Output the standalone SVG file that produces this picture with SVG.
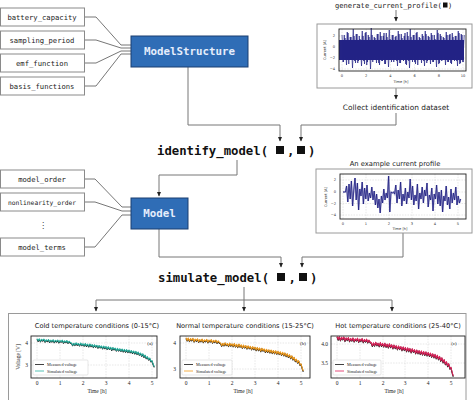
<svg xmlns="http://www.w3.org/2000/svg" width="474" height="400" viewBox="0 0 474 400">
<style>
.in rect{fill:#fff;stroke:#8a8a8a;stroke-width:1}
.in text{font-family:"DejaVu Sans Mono",monospace;font-size:7.2px;fill:#222;text-anchor:middle}
.blue rect{fill:#2f6db6;stroke:#1b3f70;stroke-width:1}
.blue text{font-family:"DejaVu Sans Mono",monospace;font-weight:bold;font-size:10.8px;fill:#e6eefc;text-anchor:middle}
.conn path{fill:none;stroke:#777;stroke-width:1}
.arr{marker-end:url(#ah)}
.fn{font-family:"DejaVu Sans Mono",monospace;font-weight:bold;font-size:12.3px;fill:#111}
.sq{fill:#111}
.panel{fill:#fff;stroke:#9a9a9a;stroke-width:1}
.frame{fill:none;stroke:#222;stroke-width:0.9}
.grid{stroke:#cfcfcf;stroke-width:0.5;stroke-dasharray:1.5 1.2;fill:none}
.tk{font-family:"DejaVu Sans",sans-serif;font-size:3.6px;fill:#333;text-anchor:middle}
.tks{font-family:"Liberation Serif",serif;font-size:5.5px;fill:#222;text-anchor:middle}
.cap{font-family:"DejaVu Sans",sans-serif;font-size:6.6px;fill:#222;text-anchor:middle}
.leg{font-family:"Liberation Serif",serif;font-size:4.2px;fill:#222}
.legbox{fill:#fff;stroke:#ccc;stroke-width:0.5}
.cur{fill:none;stroke:#232385;stroke-width:0.7}
</style>
<defs>
<marker id="ah" markerWidth="5" markerHeight="5" refX="4" refY="2.5" orient="auto" markerUnits="userSpaceOnUse"><path d="M0,0.5 L4.5,2.5 L0,4.5 z" fill="#222"/></marker>
<path id="vc" fill="none" stroke-linejoin="round" d="M0,0 5,10 10,1 15,12 20,3 25,9 30,2 35,14 40,5 45,11 50,4 55,15 60,7 65,13 70,5 75,16 80,8 85,13 90,6 95,17 100,9 105,14 110,7 115,18 120,10 125,16 130,9 135,19 140,12 145,18 150,20 155,30 160,21 165,29 170,19 175,28 180,22 185,31 190,20 195,30 200,23 205,32 210,22 215,33 220,25 225,35 230,24 235,34 240,27 245,38 250,28 255,37 260,30 265,41 270,31 275,40 280,33 285,44 290,34 295,43 300,36 305,47 310,37 315,47 320,39 325,51 330,40 335,49 340,43 345,54 350,44 355,54 360,46 365,56 370,47 375,58 380,49 385,59 390,50 395,61 400,52 405,62 410,54 415,65 420,56 425,67 430,58 435,70 440,61 445,73 450,65 455,78 460,69 465,83 470,75 475,89 480,82 485,95 490,88 495,103 500,100 505,116 510,128"/>
<polyline id="zz" points="342,35 343.5,62 345,38 346.5,65 348,33 349.5,60 351,37 352.5,68 354,36 355.5,63 357,34 358.5,61 360,39 361.5,66 363,36 364.5,64 366,32 367.5,62 369,37 370.5,69 372,35 373.5,60 375,38 376.5,63 378,34 379.5,65 381,36 382.5,61 384,33 385.5,64 387,37 388.5,67 390,39 391.5,62 393,35 394.5,60 396,36 397.5,66 399,34 400.5,63 402,38 403.5,61 405,33 406.5,65 408,36 409.5,68 411,37 412.5,62 414,35 415.5,64 417,32 418.5,60 420,38 421.5,63 423,36 424.5,66 426,34 427.5,61 429,37 430.5,64 432,35 433.5,62 435,39 436.5,67 438,33 439.5,63 441,36 442.5,60 444,38 445.5,65 447,35 448.5,62 450,34 451.5,64 453,37 454.5,61 456,36 457.5,66 459,33 460.5,63 462,35 463.5,62"/>
<clipPath id="ca"><rect x="31" y="336" width="126" height="42"/></clipPath>
<clipPath id="cb"><rect x="180" y="336" width="130" height="42"/></clipPath>
<clipPath id="cc"><rect x="331" y="336" width="134" height="42"/></clipPath>
</defs>

<rect width="474" height="400" fill="#fff"/>

<!-- connectors -->
<g id="connectors" class="conn">
<path d="M84.5,17 H96 L121,45 H131"/>
<path d="M84.5,40 H96 L121,48 H131"/>
<path d="M84.5,63 H96 L121,51 H131"/>
<path d="M84.5,86 H96 L121,54 H131"/>
<path d="M85,179 H95 L122,207 H131"/>
<path d="M85,202 H95 L122,211 H131"/>
<path d="M85,247 H95 L122,215 H131"/>
<path class="arr" d="M188,67 V125 H280 V141"/>
<path class="arr" d="M396,10 V21"/>
<path class="arr" d="M396,88 V99"/>
<path class="arr" d="M396,113 V125 H301 V141"/>
<path class="arr" d="M237,160 V175 H159 V196"/>
<path class="arr" d="M159,229 V257 H281 V267"/>
<path class="arr" d="M403,233 V257 H302 V267"/>
<path d="M244,287 V300 M96,300 H392"/>
<path class="arr" d="M96,300 V311"/>
<path class="arr" d="M244,300 V311"/>
<path class="arr" d="M392,300 V311"/>
</g>

<!-- input nodes -->
<g id="battery_capacity" class="in"><rect x="0.5" y="8" width="84" height="18"/><text x="42" y="20">battery_capacity</text></g>
<g id="sampling_period" class="in"><rect x="0.5" y="31" width="84" height="18"/><text x="42" y="43">sampling_period</text></g>
<g id="emf_function" class="in"><rect x="0.5" y="54" width="84" height="18"/><text x="42" y="66">emf_function</text></g>
<g id="basis_functions" class="in"><rect x="0.5" y="77" width="84" height="18"/><text x="42" y="89">basis_functions</text></g>
<g id="model_order" class="in"><rect x="0.5" y="170" width="84" height="18"/><text x="42" y="182">model_order</text></g>
<g id="nonlinearity_order" class="in"><rect x="0.5" y="193" width="84" height="18"/><text x="42" y="204.5" style="font-size:6.3px">nonlinearity_order</text></g>
<g id="vdots"><text x="43" y="228" style="font-family:'DejaVu Sans',sans-serif;font-size:8px;fill:#333;text-anchor:middle">⋮</text></g>
<g id="model_terms" class="in"><rect x="0.5" y="238" width="84" height="18"/><text x="42" y="250">model_terms</text></g>

<g id="ModelStructure" class="blue"><rect x="131" y="36" width="117" height="31"/><text x="189.5" y="55">ModelStructure</text></g>
<g id="Model" class="blue"><rect x="131" y="198" width="57" height="31"/><text x="159.5" y="217">Model</text></g>

<!-- generate_current_profile -->
<g id="generate_current_profile">
<text x="335" y="8" style="font-family:'DejaVu Sans Mono',monospace;font-size:7.1px;fill:#222">generate_current_profile(</text>
<rect x="443" y="2.5" width="4.5" height="5" class="sq"/>
<text x="448" y="8" style="font-family:'DejaVu Sans Mono',monospace;font-size:7.1px;fill:#222">)</text>
</g>

<!-- top current profile plot -->
<g id="profile_plot_top">
<rect class="panel" x="317" y="24" width="155" height="64"/>
<g class="grid"><path d="M342,29V71M366.2,29V71M390.4,29V71M414.6,29V71M438.8,29V71M463,29V71M339,36H466M339,47H466M339,58H466M339,69H466"/></g>
<rect x="339" y="40" width="125" height="20" fill="#232385"/>
<use href="#zz" class="cur"/>
<use href="#zz" class="cur" transform="translate(0.75,97) scale(1,-1)"/>
<rect class="frame" x="339" y="29" width="127" height="42"/>
<g class="tk"><text x="342" y="77">0</text><text x="366.2" y="77">2</text><text x="390.4" y="77">4</text><text x="414.6" y="77">6</text><text x="438.8" y="77">8</text><text x="463" y="77">10</text>
<text x="401" y="82.5">Time [h]</text>
<text x="335" y="37.3" style="text-anchor:end">2</text><text x="335" y="48.3" style="text-anchor:end">0</text><text x="335" y="59.3" style="text-anchor:end">−2</text><text x="335" y="70.3" style="text-anchor:end">−4</text>
<text transform="translate(326,50) rotate(-90)">Current [A]</text></g>
</g>
<g id="collect"><text class="cap" x="396" y="109.5" style="font-size:7.4px">Collect identification dataset</text></g>

<!-- identify_model -->
<g id="identify_model">
<text class="fn" x="157" y="155">identify_model(</text>
<rect class="sq" x="276" y="146" width="8" height="8"/>
<text class="fn" x="287" y="155">,</text>
<rect class="sq" x="297" y="146" width="8" height="8"/>
<text class="fn" x="308" y="155">)</text>
</g>

<!-- example current profile -->
<g id="profile_plot_example">
<text class="cap" x="395" y="165.5" style="font-size:6.8px">An example current profile</text>
<rect class="panel" x="316" y="169" width="156" height="64"/>
<g class="grid"><path d="M343,174V219M366,174V219M389,174V219M412,174V219M435,174V219M458,174V219M340,180H466M340,192H466M340,203.5H466M340,215H466"/></g>
<polyline fill="none" stroke="#6868b0" stroke-width="1.6" opacity="0.6" points="343,192 344.2,192 345.4,192 346.6,186 347.8,202 349,184 350.2,199 351.4,181 352.6,206 353.8,190 355,178 356.2,200 357.4,183 358.6,210 359.8,189 361,196 362.2,182 363.4,204 364.6,188 365.8,199 367,185 368.2,201 369.4,193 370.6,198 371.8,187 373,200 374.2,191 375.4,205 376.6,194 377.8,208 379,199 380.2,213 381.4,196 382.6,203 383.8,189 385,200 386.2,193 387.4,198 388.6,176 389.8,212 391,192 392.2,193 393.4,192 394.6,194 395.8,185 397,203 398.2,190 399.4,199 400.6,182 401.8,206 403,194 404.2,201 405.4,188 406.6,204 407.8,192 409,198 410.2,179 411.4,200 412.6,186 413.8,205 415,195 416.2,201 417.4,184 418.6,209 419.8,193 421,199 422.2,187 423.4,203 424.6,190 425.8,196 427,183 428.2,207 429.4,195 430.6,200 431.8,188 433,211 434.2,194 435.4,199 436.6,185 437.8,204 439,192 440.2,206 441.4,190 442.6,212 443.8,196 445,201 446.2,186 447.4,205 448.6,197 449.8,209 451,189 452.2,203 453.4,193 454.6,200 455.8,187 457,205 458.2,196 459.4,203 460.6,199"/>
<polyline fill="none" stroke="#1d1d80" stroke-width="0.8" points="343,192 344.2,192 345.4,192 346.6,186 347.8,202 349,184 350.2,199 351.4,181 352.6,206 353.8,190 355,178 356.2,200 357.4,183 358.6,210 359.8,189 361,196 362.2,182 363.4,204 364.6,188 365.8,199 367,185 368.2,201 369.4,193 370.6,198 371.8,187 373,200 374.2,191 375.4,205 376.6,194 377.8,208 379,199 380.2,213 381.4,196 382.6,203 383.8,189 385,200 386.2,193 387.4,198 388.6,176 389.8,212 391,192 392.2,193 393.4,192 394.6,194 395.8,185 397,203 398.2,190 399.4,199 400.6,182 401.8,206 403,194 404.2,201 405.4,188 406.6,204 407.8,192 409,198 410.2,179 411.4,200 412.6,186 413.8,205 415,195 416.2,201 417.4,184 418.6,209 419.8,193 421,199 422.2,187 423.4,203 424.6,190 425.8,196 427,183 428.2,207 429.4,195 430.6,200 431.8,188 433,211 434.2,194 435.4,199 436.6,185 437.8,204 439,192 440.2,206 441.4,190 442.6,212 443.8,196 445,201 446.2,186 447.4,205 448.6,197 449.8,209 451,189 452.2,203 453.4,193 454.6,200 455.8,187 457,205 458.2,196 459.4,203 460.6,199"/>
<rect class="frame" x="340" y="174" width="126" height="45"/>
<g class="tk"><text x="343" y="224.5">0</text><text x="366" y="224.5">1</text><text x="389" y="224.5">2</text><text x="412" y="224.5">3</text><text x="435" y="224.5">4</text><text x="458" y="224.5">5</text>
<text x="400" y="229.5">Time [h]</text>
<text x="336" y="181.3" style="text-anchor:end">2</text><text x="336" y="193.3" style="text-anchor:end">0</text><text x="336" y="204.8" style="text-anchor:end">−2</text><text x="336" y="216.3" style="text-anchor:end">−4</text>
<text transform="translate(327,197) rotate(-90)">Current [A]</text></g>
</g>

<!-- simulate_model -->
<g id="simulate_model">
<text class="fn" x="158" y="282">simulate_model(</text>
<rect class="sq" x="277" y="273" width="8" height="8"/>
<text class="fn" x="288.5" y="282">,</text>
<rect class="sq" x="299" y="273" width="8" height="8"/>
<text class="fn" x="310" y="282">)</text>
</g>

<!-- results panel -->
<g id="results">
<rect class="panel" x="8.5" y="313.5" width="457.5" height="95"/>

<g id="plot_cold">
<text class="cap" x="97" y="327.5" style="font-size:6.6px">Cold temperature conditions (0-15°C)</text>
<g class="grid"><path d="M37,336V378M60,336V378M83,336V378M106,336V378M129,336V378M152,336V378M31,343H157M31,365H157"/></g>
<g clip-path="url(#ca)">
<use href="#vc" stroke="#111" stroke-width="5" transform="translate(37,339.2) scale(0.23,0.22)"/>
<use href="#vc" stroke="#28b3a2" stroke-width="4.5" transform="translate(37,338.6) scale(0.23,0.22)"/>
</g>
<rect class="frame" x="31" y="336" width="126" height="42"/>
<g class="tks"><text x="37" y="384.5">0</text><text x="60" y="384.5">1</text><text x="83" y="384.5">2</text><text x="106" y="384.5">3</text><text x="129" y="384.5">4</text><text x="152" y="384.5">5</text>
<text x="97" y="392.5">Time [h]</text>
<text x="28" y="345" style="text-anchor:end">4</text><text x="28" y="367" style="text-anchor:end">3</text>
<text transform="translate(20,357) rotate(-90)">Voltage [V]</text>
<text x="150" y="344.5" style="font-size:5px">(a)</text></g>
<rect class="legbox" x="33" y="360" width="55" height="15" rx="1"/>
<path d="M35,364.5H44" stroke="#111" stroke-width="0.8"/><path d="M35,371H44" stroke="#28b3a2" stroke-width="0.8"/>
<text class="leg" x="47" y="366">Measured voltage</text><text class="leg" x="47" y="372.5">Simulated voltage</text>
</g>

<g id="plot_normal">
<text class="cap" x="245" y="327.5" style="font-size:6.6px">Normal temperature conditions (15-25°C)</text>
<g class="grid"><path d="M186,336V378M209,336V378M232,336V378M255,336V378M278,336V378M301,336V378M180,343H310M180,369H310"/></g>
<g clip-path="url(#cb)">
<use href="#vc" stroke="#111" stroke-width="5" transform="translate(186,338.4) scale(0.23,0.26)"/>
<use href="#vc" stroke="#f39c1b" stroke-width="4.5" transform="translate(186,337.8) scale(0.23,0.26)"/>
</g>
<rect class="frame" x="180" y="336" width="130" height="42"/>
<g class="tks"><text x="186" y="384.5">0</text><text x="209" y="384.5">1</text><text x="232" y="384.5">2</text><text x="255" y="384.5">3</text><text x="278" y="384.5">4</text><text x="301" y="384.5">5</text>
<text x="243" y="392.5">Time [h]</text>
<text x="176" y="345" style="text-anchor:end">4</text><text x="176" y="371" style="text-anchor:end">3</text>
<text x="303" y="344.5" style="font-size:5px">(b)</text></g>
<rect class="legbox" x="182" y="360" width="50" height="15" rx="1"/>
<path d="M184,364.5H193" stroke="#111" stroke-width="0.8"/><path d="M184,371H193" stroke="#f39c1b" stroke-width="0.8"/>
<text class="leg" x="196" y="366">Measured voltage</text><text class="leg" x="196" y="372.5">Simulated voltage</text>
</g>

<g id="plot_hot">
<text class="cap" x="398" y="327.5" style="font-size:6.6px">Hot temperature conditions (25-40°C)</text>
<g class="grid"><path d="M337,336V378M360,336V378M383,336V378M405,336V378M428,336V378M451,336V378M331,344H465M331,363H465"/></g>
<g clip-path="url(#cc)">
<use href="#vc" stroke="#111" stroke-width="5" transform="translate(337,337) scale(0.228,0.31)"/>
<use href="#vc" stroke="#e0205a" stroke-width="4.5" transform="translate(337,336.4) scale(0.228,0.31)"/>
</g>
<rect class="frame" x="331" y="336" width="134" height="42"/>
<g class="tks"><text x="337" y="384.5">0</text><text x="360" y="384.5">1</text><text x="383" y="384.5">2</text><text x="405" y="384.5">3</text><text x="428" y="384.5">4</text><text x="451" y="384.5">5</text>
<text x="394" y="392.5">Time [h]</text>
<text x="328" y="346" style="text-anchor:end">4.0</text><text x="328" y="365" style="text-anchor:end">3.5</text>
<text x="454" y="344.5" style="font-size:5px">(c)</text></g>
<rect class="legbox" x="333" y="360" width="48" height="15" rx="1"/>
<path d="M335,364.5H344" stroke="#111" stroke-width="0.8"/><path d="M335,371H344" stroke="#e0205a" stroke-width="0.8"/>
<text class="leg" x="347" y="366">Measured voltage</text><text class="leg" x="347" y="372.5">Simulated voltage</text>
</g>
</g>
</svg>
